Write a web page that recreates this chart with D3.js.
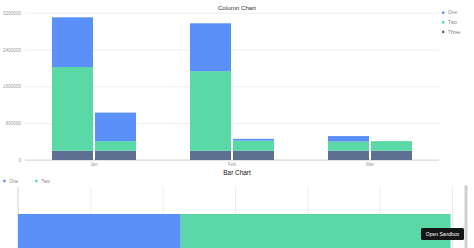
<!DOCTYPE html>
<html>
<head>
<meta charset="utf-8">
<script src="https://cdn.jsdelivr.net/npm/d3@7"></script>
<style>
  body { margin: 0; background: #fff; overflow: hidden; }
  svg { display: block; font-family: "Liberation Sans", Arial, sans-serif; }
</style>
</head>
<body>
<div id="chart"></div>
<script>
// column chart data
const months = ['Jan', 'Feb', 'Mar']
const groups = ['a', 'b']
const series = ['One', 'Two', 'Three']
const colValues = {
  One:   [[1080000, 620000], [1040000, 40000], [120000, 0]],
  Two:   [[1820000, 210000], [1730000, 220000], [200000, 210000]],
  Three: [[200000, 200000], [200000, 200000], [200000, 200000]]
}
const yTicks = [0, 800000, 1600000, 2400000, 3200000]

// bar chart data
const barSeries = ['One', 'Two']
const barValues = [1125000, 1865000]
const barTicks = [0, 500000, 1000000, 1500000, 2000000, 2500000, 3000000]

const colors = { One: '#5B8FF9', Two: '#5AD8A6', Three: '#5D7092' }

const W = 474, H = 248

const svg = d3.select('#chart').append('svg')
  .attr('width', W).attr('height', H)

// ---------- column chart ----------
const x0 = d3.scaleBand().domain(months).range([25, 439]).paddingInner(0).paddingOuter(0)
const x1 = d3.scaleBand().domain(groups).range([0, x0.bandwidth()]).paddingOuter(0.628).paddingInner(0.0465)
const y = d3.scaleLinear().domain([0, 3200000]).range([160, 12.7])

svg.append('text')
  .attr('x', 237).attr('y', 9.5)
  .attr('text-anchor', 'middle')
  .style('font-size', '6.2px').style('fill', '#333')
  .text('Column Chart')

const yAxis = svg.append('g')
  .attr('transform', 'translate(25,0)')
  .call(d3.axisLeft(y).tickValues(yTicks).tickSize(-414).tickPadding(4).tickFormat(d3.format('d')))
yAxis.select('.domain').remove()
yAxis.selectAll('.tick line').attr('stroke', '#e9e9e9').attr('stroke-width', 0.8)
yAxis.selectAll('.tick text').style('font-size', '4.6px').style('fill', '#999')

// baseline
svg.append('line')
  .attr('x1', 25).attr('x2', 439).attr('y1', y(0)).attr('y2', y(0))
  .attr('stroke', '#d9d9d9').attr('stroke-width', 1)

const segs = []
months.forEach((m, mi) => {
  groups.forEach((g, gi) => {
    let acc = 0
    ;['Three', 'Two', 'One'].forEach(s => {
      const v = colValues[s][mi][gi]
      segs.push({ m, g, s, y0: acc, y1: acc + v })
      acc += v
    })
  })
})

svg.append('g').selectAll('rect')
  .data(segs.filter(d => d.y1 > d.y0))
  .enter().append('rect')
  .attr('x', d => x0(d.m) + x1(d.g))
  .attr('width', x1.bandwidth())
  .attr('y', d => y(d.y1))
  .attr('height', d => y(d.y0) - y(d.y1))
  .attr('fill', d => colors[d.s])

const xAxis = svg.append('g')
  .attr('transform', 'translate(0,160)')
  .call(d3.axisBottom(x0).tickSize(0).tickPadding(3))
xAxis.select('.domain').remove()
xAxis.selectAll('.tick text').style('font-size', '4.6px').style('fill', '#999')

// legend
const leg = svg.append('g').selectAll('g')
  .data(series).enter().append('g')
  .attr('transform', (d, i) => `translate(442,${12.7 + i * 9.6})`)
leg.append('rect').attr('x', 0).attr('y', -1.2).attr('width', 2.4).attr('height', 2.4)
  .attr('fill', d => colors[d])
leg.append('text').attr('x', 6).attr('y', 1.7)
  .style('font-size', '4.8px').style('fill', '#888')
  .text(d => d)

// ---------- bar chart ----------
svg.append('text')
  .attr('x', 237).attr('y', 175)
  .attr('text-anchor', 'middle')
  .style('font-size', '6.4px').style('fill', '#111')
  .text('Bar Chart')

const bleg = svg.append('g').selectAll('g')
  .data(barSeries).enter().append('g')
  .attr('transform', (d, i) => `translate(${3.2 + i * 32},181)`)
bleg.append('rect').attr('x', 0).attr('y', -1.2).attr('width', 2.4).attr('height', 2.4)
  .attr('fill', d => colors[d])
bleg.append('text').attr('x', 6).attr('y', 1.7)
  .style('font-size', '4.8px').style('fill', '#888')
  .text(d => d)

const bx = d3.scaleLinear().domain([0, 3000000]).range([18, 452])

const bGrid = svg.append('g')
  .attr('transform', 'translate(0,187)')
  .call(d3.axisTop(bx).tickValues(barTicks).tickSize(-70).tickFormat(''))
bGrid.select('.domain').remove()
bGrid.selectAll('.tick line').attr('stroke', '#e9e9e9').attr('stroke-width', 0.8)

svg.append('line')
  .attr('x1', 18).attr('x2', 18).attr('y1', 187).attr('y2', H)
  .attr('stroke', '#d9d9d9')

let accB = 0
const bSegs = barSeries.map((s, i) => {
  const d = { s, x0: accB, x1: accB + barValues[i] }
  accB += barValues[i]
  return d
})
svg.append('g').selectAll('rect')
  .data(bSegs).enter().append('rect')
  .attr('x', d => bx(d.x0))
  .attr('width', d => bx(d.x1) - bx(d.x0))
  .attr('y', 214).attr('height', 40)
  .attr('fill', d => colors[d.s])

// scrollbar
svg.append('rect')
  .attr('x', 464.5).attr('y', 185).attr('width', 3).attr('height', 70).attr('rx', 1.5)
  .attr('fill', '#cfcfcf')

// sandbox button
const btn = svg.append('g').attr('transform', 'translate(421,228)')
btn.append('rect').attr('width', 43).attr('height', 12).attr('rx', 1.5).attr('fill', '#151515')
btn.append('text').attr('x', 21.5).attr('y', 8).attr('text-anchor', 'middle')
  .style('font-size', '5px').style('fill', '#fff')
  .text('Open Sandbox')
</script>
</body>
</html>
